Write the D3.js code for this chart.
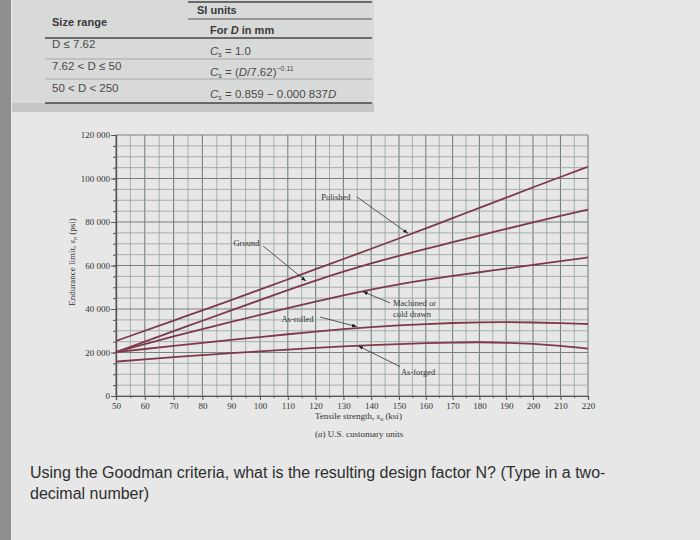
<!DOCTYPE html>
<html>
<head>
<meta charset="utf-8">
<script src="https://cdn.jsdelivr.net/npm/d3@7"></script>
<style>
body { margin: 0; background: #e6e7e6; }
svg { display: block; }
</style>
</head>
<body>
<div id="chart"></div>
<script>
// tensile strength (ksi) sampled every 10
var su = [50, 60, 70, 80, 90, 100, 110, 120, 130, 140, 150, 160, 170, 180, 190, 200, 210, 220];
// endurance limit (psi)
var polished = [25300, 30000, 34700, 39400, 44100, 48900, 53600, 58300, 63000, 67700, 72400, 77100, 81800, 86500, 91200, 96000, 100700, 105400];
var ground   = [20200, 25000, 29800, 34600, 39400, 44100, 48700, 53100, 57200, 61000, 64500, 67600, 70700, 73800, 76800, 79900, 82800, 85700];
var machined = [20200, 23900, 27400, 30800, 34100, 37300, 40400, 43400, 46300, 49000, 51400, 53400, 55200, 56900, 58600, 60300, 62000, 63700];
var asRolled = [20200, 21600, 23000, 24400, 25800, 27100, 28400, 29600, 30800, 31700, 32500, 33100, 33600, 33900, 34000, 33800, 33500, 33100];
var asForged = [15800, 16900, 17900, 18800, 19700, 20500, 21300, 22100, 22800, 23400, 23900, 24300, 24600, 24800, 24500, 24000, 23100, 21800];

var xTicks = [50, 60, 70, 80, 90, 100, 110, 120, 130, 140, 150, 160, 170, 180, 190, 200, 210, 220];
var yTicks = [0, 20000, 40000, 60000, 80000, 100000, 120000];

var sizeRanges = ["D \u2264 7.62", "7.62 < D \u2264 50", "50 < D < 250"];

var W = 700, H = 540;
var svg = d3.select("#chart").append("svg")
	.attr("width", W)
	.attr("height", H);

// photo background bits
svg.append("rect").attr("x", 0).attr("y", 0).attr("width", W).attr("height", H).attr("fill", "#e6e7e6");
svg.append("rect").attr("x", 12).attr("y", 0).attr("width", 362).attr("height", 112).attr("fill", "#d8d9d9");
svg.append("rect").attr("x", 12).attr("y", 103).attr("width", 362).attr("height", 9).attr("fill", "#c6c7c7");
svg.append("rect").attr("x", 0).attr("y", 0).attr("width", 11).attr("height", H).attr("fill", "#8d8e8e");

// ---- table at the top ----
var tbl = svg.append("g").attr("font-family", "Liberation Sans, Arial, sans-serif").attr("fill", "#3a3a3a");
function hline(x1, x2, y, w, c) {
	tbl.append("line").attr("x1", x1).attr("x2", x2).attr("y1", y).attr("y2", y)
		.attr("stroke", c).attr("stroke-width", w);
}
hline(188, 372, 2, 1.5, "#444");
hline(188, 372, 19, 1.2, "#555");
hline(45, 372, 38, 1.5, "#444");
hline(45, 372, 59, 0.8, "#9a9b9b");
hline(45, 372, 79, 0.8, "#9a9b9b");
hline(45, 372, 103, 1.5, "#444");

tbl.append("text").attr("x", 197).attr("y", 14).attr("font-size", 11).attr("font-weight", "bold").text("SI units");
tbl.append("text").attr("x", 52).attr("y", 26).attr("font-size", 11).attr("font-weight", "bold").text("Size range");
var hdr = tbl.append("text").attr("x", 210).attr("y", 34).attr("font-size", 11).attr("font-weight", "bold");
hdr.append("tspan").text("For ");
hdr.append("tspan").attr("font-style", "italic").text("D");
hdr.append("tspan").text(" in mm");

tbl.selectAll("text.size").data(sizeRanges).enter().append("text")
	.attr("class", "size")
	.attr("x", 52)
	.attr("y", function(d, i) { return 48 + i * 22; })
	.attr("font-size", 11.5)
	.attr("fill", "#4a4a4a")
	.text(function(d) { return d; });

var f1 = tbl.append("text").attr("x", 210).attr("y", 55).attr("font-size", 11.5).attr("fill", "#4a4a4a");
f1.append("tspan").attr("font-style", "italic").text("C");
f1.append("tspan").attr("font-size", 7).attr("dy", 2).text("s");
f1.append("tspan").attr("dy", -2).text(" = 1.0");
var f2 = tbl.append("text").attr("x", 210).attr("y", 76).attr("font-size", 11.5).attr("fill", "#4a4a4a");
f2.append("tspan").attr("font-style", "italic").text("C");
f2.append("tspan").attr("font-size", 7).attr("dy", 2).text("s");
f2.append("tspan").attr("dy", -2).text(" = (");
f2.append("tspan").attr("font-style", "italic").text("D");
f2.append("tspan").text("/7.62)");
f2.append("tspan").attr("font-size", 7).attr("dy", -5).text("\u22120.11");
var f3 = tbl.append("text").attr("x", 210).attr("y", 98).attr("font-size", 11.5).attr("fill", "#4a4a4a");
f3.append("tspan").attr("font-style", "italic").text("C");
f3.append("tspan").attr("font-size", 7).attr("dy", 2).text("s");
f3.append("tspan").attr("dy", -2).text(" = 0.859 \u2212 0.000 837");
f3.append("tspan").attr("font-style", "italic").text("D");

// ---- chart ----
var x = d3.scaleLinear().domain([50, 100, 150, 200, 220]).range([116, 260, 399, 533, 588]);
var y = d3.scaleLinear().domain([0, 120000]).range([396, 135]);

var g = svg.append("g").attr("font-family", "Liberation Serif, Times New Roman, serif").attr("fill", "#333");

g.append("g").selectAll("line").data(d3.range(50, 221, 5)).enter().append("line")
	.attr("x1", function(d) { return x(d); })
	.attr("x2", function(d) { return x(d); })
	.attr("y1", y(0))
	.attr("y2", y(120000))
	.attr("stroke", function(d) { return d % 10 == 0 ? "#76827c" : "#96a09b"; })
	.attr("stroke-width", function(d) { return d % 10 == 0 ? 1.1 : 0.8; });

g.append("g").selectAll("line").data(d3.range(0, 120001, 5000)).enter().append("line")
	.attr("x1", x(50))
	.attr("x2", x(220))
	.attr("y1", function(d) { return y(d); })
	.attr("y2", function(d) { return y(d); })
	.attr("stroke", function(d) { return d % 20000 == 0 ? "#76827c" : "#96a09b"; })
	.attr("stroke-width", function(d) { return d % 20000 == 0 ? 1.1 : 0.8; });

// axes
var yAxis = g.append("g").attr("transform", "translate(" + x(50) + ",0)")
	.call(d3.axisLeft(y).tickValues(yTicks).tickSize(5).tickFormat(function(d) {
		return d == 0 ? "0" : d3.format(",")(d).replace(",", " ");
	}));
g.append("g").attr("transform", "translate(" + x(50) + ",0)")
	.call(d3.axisLeft(y).tickValues(d3.range(0, 120001, 5000)).tickSize(3).tickFormat(""));
var xAxis = g.append("g").attr("transform", "translate(0," + y(0) + ")")
	.call(d3.axisBottom(x).tickValues(xTicks).tickSize(4).tickFormat(d3.format("d")));
g.append("g").attr("transform", "translate(0," + y(0) + ")")
	.call(d3.axisBottom(x).tickValues(d3.range(55, 220, 10)).tickSize(2).tickFormat(""));

g.selectAll(".domain").attr("stroke", "#555").attr("stroke-width", 1.2);
g.selectAll(".tick line").attr("stroke", "#555");
g.selectAll(".tick text").attr("font-family", "Liberation Serif, serif").attr("font-size", 9).attr("fill", "#333");
yAxis.selectAll(".tick text").attr("x", -6);
xAxis.selectAll(".tick text").attr("y", 7);

// axis titles
var xt = g.append("text").attr("x", 315).attr("y", 419).attr("font-size", 9);
xt.append("tspan").text("Tensile strength, ");
xt.append("tspan").attr("font-style", "italic").text("s");
xt.append("tspan").attr("font-size", 6).attr("dy", 2).attr("font-style", "italic").text("u");
xt.append("tspan").attr("dy", -2).text(" (ksi)");
var st = g.append("text").attr("x", 315).attr("y", 437).attr("font-size", 9);
st.append("tspan").text("(");
st.append("tspan").attr("font-style", "italic").text("a");
st.append("tspan").text(") U.S. customary units");

var yt = g.append("text").attr("transform", "translate(75,262) rotate(-90)").attr("text-anchor", "middle").attr("font-size", 9);
yt.append("tspan").text("Endurance limit, ");
yt.append("tspan").attr("font-style", "italic").text("s");
yt.append("tspan").attr("font-size", 6).attr("dy", 2).attr("font-style", "italic").text("n");
yt.append("tspan").attr("dy", -2).text(" (psi)");

// curves
var series = [polished, ground, machined, asRolled, asForged];
var line = d3.line()
	.x(function(d, i) { return x(su[i]); })
	.y(function(d) { return y(d); })
	.curve(d3.curveBasis);
g.selectAll("path.curve").data(series).enter().append("path")
	.attr("class", "curve")
	.attr("d", line)
	.attr("fill", "none")
	.attr("stroke", "#7e3a4a")
	.attr("stroke-width", 1.8);

// labels with leaders
svg.append("defs").append("marker")
	.attr("id", "arr")
	.attr("viewBox", "0 0 10 10")
	.attr("refX", 10).attr("refY", 5)
	.attr("markerWidth", 6).attr("markerHeight", 6)
	.attr("orient", "auto")
	.append("path").attr("d", "M0,1 L10,5 L0,9 Z").attr("fill", "#222");

var notes = [
	{ lines: ["Polished"], tx: 127.3, ty: 91500, anchor: "middle", fx: 134.8, fy: 91600, ax: 153.3, ay: 74800 },
	{ lines: ["Ground"], tx: 95.3, ty: 70300, anchor: "middle", fx: 101.1, fy: 69000, ax: 116.5, ay: 52900 },
	{ lines: ["As-rolled"], tx: 113.5, ty: 35400, anchor: "middle", fx: 121.6, fy: 36300, ax: 134.8, ay: 31900 },
	{ lines: ["Machined or", "cold drawn"], tx: 147.8, ty: 42600, anchor: "start", fx: 146.8, fy: 42800, ax: 137.0, ay: 48000 },
	{ lines: ["As-forged"], tx: 150.7, ty: 11200, anchor: "start", fx: 150.4, fy: 13500, ax: 135.4, ay: 23000 }
];
notes.forEach(function(n) {
	g.append("line")
		.attr("x1", x(n.fx)).attr("y1", y(n.fy))
		.attr("x2", x(n.ax)).attr("y2", y(n.ay))
		.attr("stroke", "#333").attr("stroke-width", 0.8)
		.attr("marker-end", "url(#arr)");
	n.lines.forEach(function(t, i) {
		g.append("text")
			.attr("x", x(n.tx))
			.attr("y", y(n.ty) + 3 + i * 11)
			.attr("text-anchor", n.anchor)
			.attr("font-size", 8.5)
			.text(t);
	});
});

// question text
var q = svg.append("g").attr("font-family", "Liberation Sans, Arial, sans-serif").attr("font-size", 16).attr("fill", "#2e2e2e");
q.append("text").attr("x", 30).attr("y", 478).text("Using the Goodman criteria, what is the resulting design factor N? (Type in a two-");
q.append("text").attr("x", 30).attr("y", 499).text("decimal number)");
</script>
</body>
</html>
